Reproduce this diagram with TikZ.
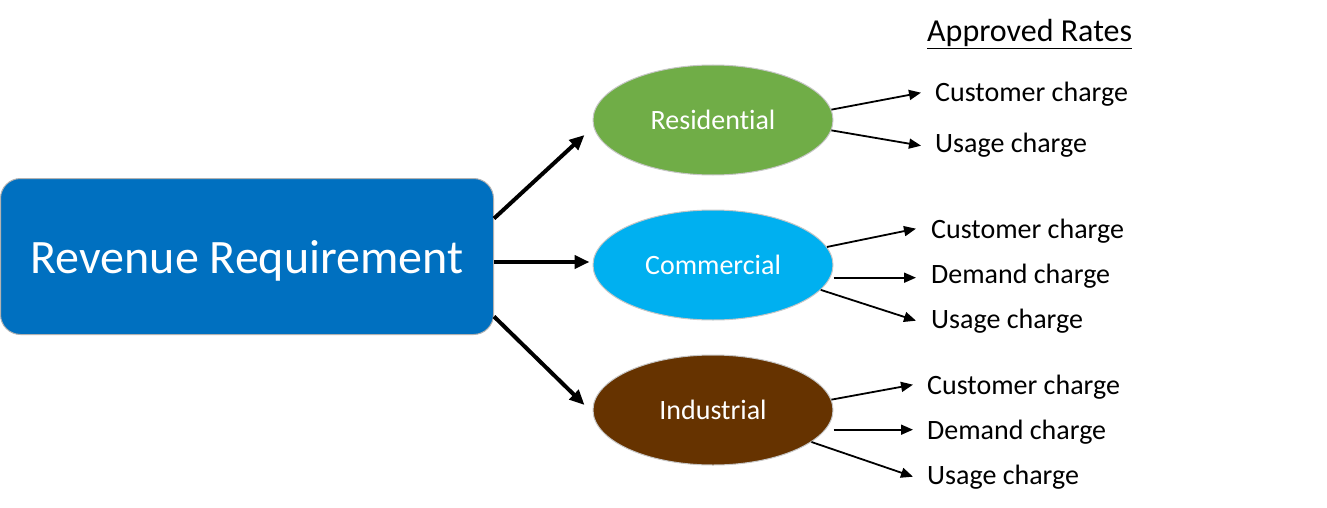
\documentclass[tikz,border=0pt]{standalone}
\usepackage{fontspec}
\setmainfont{Carlito}[Ligatures=NoCommon]
\usetikzlibrary{arrows.meta,shapes.geometric}
\definecolor{rrblue}{HTML}{0070C0}
\definecolor{resgreen}{HTML}{70AD47}
\definecolor{comblue}{HTML}{00B0F0}
\definecolor{indbrown}{HTML}{663300}
\begin{document}
\begin{tikzpicture}[x=1pt,y=-1pt,
  bigarrow/.style={line width=4pt,-{Triangle[length=15pt,width=13pt]}},
  smallarrow/.style={line width=1.8pt,-{Triangle[length=12pt,width=10pt]}},
  cls/.style={ellipse,minimum width=240pt,minimum height=110pt,inner sep=0pt,draw=gray!45,line width=1pt,text=white,font=\fontsize{28}{32}\selectfont},
  charge/.style={anchor=base west,inner sep=0pt,font=\fontsize{28}{32}\selectfont}]
\useasboundingbox (0,0) rectangle (1327,508);
\node[draw=gray!60, line width=1pt, fill=rrblue, rounded corners=20pt, minimum width=493pt, minimum height=156pt, anchor=north west, text=white, font=\fontsize{48}{52}\selectfont, text depth=0pt, inner sep=0pt] (rr) at (0,178) {Revenue Requirement};
\node[cls, fill=resgreen] (res) at (713,120) {Residential};
\node[cls, fill=comblue] (com) at (713,265) {Commercial};
\node[cls, fill=indbrown] (ind) at (713,410) {Industrial};
\node[anchor=base west, inner sep=0pt, font=\fontsize{32}{36}\selectfont] (ar) at (927,42) {\underline{Approved Rates}};
\node[charge] (rc) at (935,102) {Customer charge};
\node[charge] (ru) at (935,153) {Usage charge};
\node[charge] (cc) at (931,238) {Customer charge};
\node[charge] (cd) at (931,283) {Demand charge};
\node[charge] (cu) at (931,328) {Usage charge};
\node[charge] (ic) at (927,394) {Customer charge};
\node[charge] (id) at (927,439) {Demand charge};
\node[charge] (iu) at (927,484) {Usage charge};
\draw[bigarrow] ([yshift=38pt]rr.east) -- ([xshift=-8pt,yshift=-15pt]res.west);
\draw[bigarrow] ([yshift=3pt]rr.east |- com.west) -- ([xshift=-3pt,yshift=3pt]com.west);
\draw[bigarrow] ([yshift=-60pt]rr.east) -- ([xshift=-8pt,yshift=5pt]ind.west);
\draw[smallarrow] (res.5) -- ([xshift=-14pt,yshift=2pt]rc.west);
\draw[smallarrow] (res.-5) -- ([xshift=-14pt]ru.west);
\draw[smallarrow] (com.9) -- ([xshift=-15pt,yshift=2pt]cc.west);
\draw[smallarrow] ([yshift=-2pt]cd.west -| com.east) -- ([xshift=-15pt,yshift=-2pt]cd.west);
\draw[smallarrow] (com.-13) -- ([xshift=-15pt]cu.west);
\draw[smallarrow] (ind.5) -- ([xshift=-14pt,yshift=2pt]ic.west);
\draw[smallarrow] ([yshift=2pt]id.west -| ind.east) -- ([xshift=-14pt,yshift=2pt]id.west);
\draw[smallarrow] (ind.-18) -- ([xshift=-14pt]iu.west);
\end{tikzpicture}
\end{document}
